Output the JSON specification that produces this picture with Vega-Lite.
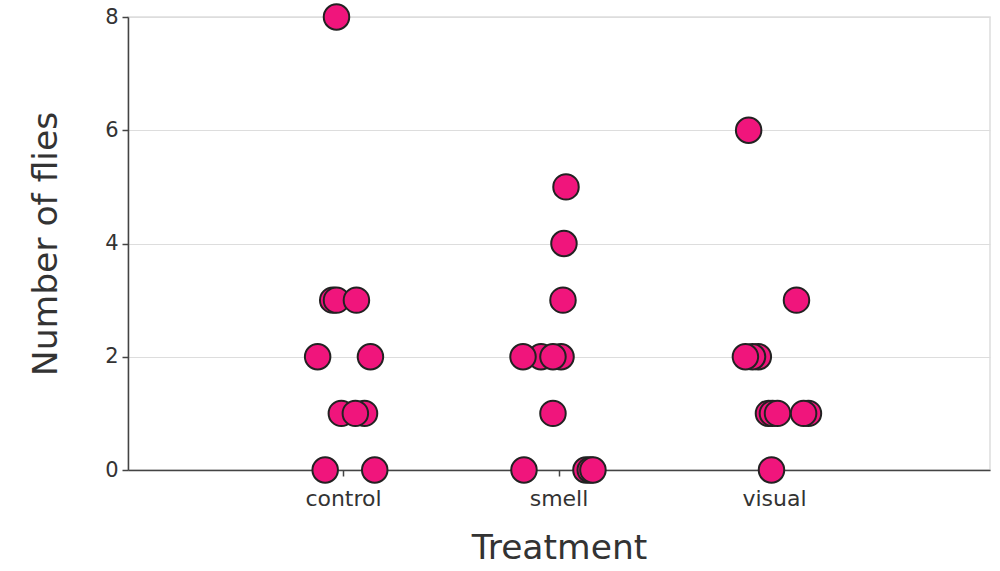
{
  "$schema": "https://vega.github.io/schema/vega-lite/v6.json",
  "autosize": {"type": "none"},
  "width": 862,
  "height": 453,
  "padding": {"left": 128, "top": 17, "right": 10, "bottom": 101},
  "background": "white",
  "config": {
    "font": "DejaVu Sans",
    "view": {"stroke": "#dddddd", "strokeWidth": 1.5},
    "axis": {
      "labelFont": "DejaVu Sans",
      "titleFont": "DejaVu Sans",
      "titleFontSize": 34.5,
      "titleFontWeight": "normal",
      "labelColor": "#333333",
      "titleColor": "#333333",
      "domainColor": "#444444",
      "domainWidth": 1.5,
      "tickColor": "#444444",
      "tickWidth": 1.5,
      "tickSize": 6,
      "gridColor": "#dddddd",
      "gridWidth": 1.2
    }
  },
  "data": {
    "values": [
      {"treatment": "control", "flies": 8, "jitter": -0.065},
      {"treatment": "control", "flies": 3, "jitter": -0.1},
      {"treatment": "control", "flies": 3, "jitter": -0.065},
      {"treatment": "control", "flies": 3, "jitter": 0.12},
      {"treatment": "control", "flies": 2, "jitter": -0.24},
      {"treatment": "control", "flies": 2, "jitter": 0.25},
      {"treatment": "control", "flies": 1, "jitter": -0.02},
      {"treatment": "control", "flies": 1, "jitter": 0.195},
      {"treatment": "control", "flies": 1, "jitter": 0.11},
      {"treatment": "control", "flies": 0, "jitter": -0.17},
      {"treatment": "control", "flies": 0, "jitter": 0.29},
      {"treatment": "smell", "flies": 5, "jitter": 0.065},
      {"treatment": "smell", "flies": 4, "jitter": 0.046},
      {"treatment": "smell", "flies": 3, "jitter": 0.037},
      {"treatment": "smell", "flies": 2, "jitter": 0.019},
      {"treatment": "smell", "flies": 2, "jitter": -0.167},
      {"treatment": "smell", "flies": 2, "jitter": -0.334},
      {"treatment": "smell", "flies": 2, "jitter": -0.056},
      {"treatment": "smell", "flies": 1, "jitter": -0.056},
      {"treatment": "smell", "flies": 0, "jitter": -0.325},
      {"treatment": "smell", "flies": 0, "jitter": 0.25},
      {"treatment": "smell", "flies": 0, "jitter": 0.29},
      {"treatment": "smell", "flies": 0, "jitter": 0.315},
      {"treatment": "visual", "flies": 6, "jitter": -0.24},
      {"treatment": "visual", "flies": 3, "jitter": 0.204},
      {"treatment": "visual", "flies": 2, "jitter": -0.15},
      {"treatment": "visual", "flies": 2, "jitter": -0.204},
      {"treatment": "visual", "flies": 2, "jitter": -0.27},
      {"treatment": "visual", "flies": 1, "jitter": -0.056},
      {"treatment": "visual", "flies": 1, "jitter": -0.019},
      {"treatment": "visual", "flies": 1, "jitter": 0.028},
      {"treatment": "visual", "flies": 1, "jitter": 0.315},
      {"treatment": "visual", "flies": 1, "jitter": 0.27},
      {"treatment": "visual", "flies": 0, "jitter": -0.028}
    ]
  },
  "mark": {
    "type": "circle",
    "size": 650,
    "opacity": 1,
    "color": "#f0157c",
    "stroke": "#222222",
    "strokeWidth": 2
  },
  "encoding": {
    "x": {
      "field": "treatment",
      "type": "nominal",
      "sort": ["control", "smell", "visual"],
      "scale": {"paddingInner": 0, "paddingOuter": 0.5},
      "axis": {"title": "Treatment", "labelAngle": 0, "bandPosition": 0.5, "labelFontSize": 22, "labelPadding": 12, "titlePadding": 22}
    },
    "xOffset": {
      "field": "jitter",
      "type": "quantitative",
      "scale": {"domain": [-1, 1]}
    },
    "y": {
      "field": "flies",
      "type": "quantitative",
      "scale": {"domain": [0, 8], "nice": false},
      "axis": {"title": "Number of flies", "values": [0, 2, 4, 6, 8], "labelFontSize": 21, "labelPadding": 4, "titlePadding": 41}
    }
  }
}
